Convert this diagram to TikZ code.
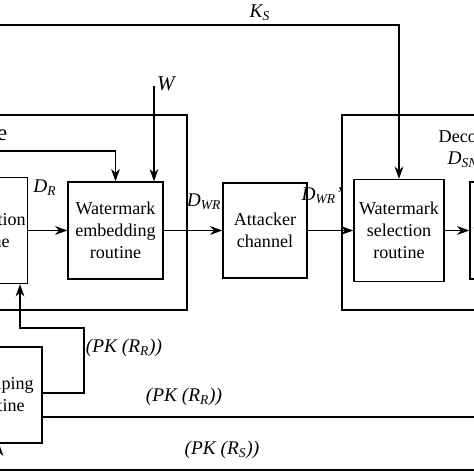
\documentclass[tikz,border=0pt]{standalone}
\usepackage{fontspec}
\setmainfont{Liberation Serif}
\usetikzlibrary{arrows.meta}
\newcommand{\lab}[2]{\textit{#1}\textsubscript{\textit{#2}}}

\begin{document}
\begin{tikzpicture}[x=0.02cm,y=-0.02cm,line width=0.8pt,>={Stealth[length=7pt,width=5pt]},
    blk/.style={draw,align=center,font=\fontsize{10.3}{12.5}\selectfont,inner sep=1pt},
    lbl/.style={font=\fontsize{11}{13}\selectfont\itshape,inner sep=0pt}]
    \useasboundingbox (0,0) rectangle (474,474);
    \clip (0,0) rectangle (474,474);
    % encoder and decoder sides
    \draw[line width=1pt] (-100,115) rectangle (187,310);
    \draw[line width=1pt] (342,115) rectangle (600,310);
    \node[anchor=base east,inner sep=0pt,font=\fontsize{13}{15}\selectfont] (n7) at (8,140) {Encoder side};
    \node[anchor=base west,inner sep=0pt,font=\fontsize{10.3}{12}\selectfont] (n8) at (438,142) {Decoder};
    % routines
    \node[blk,minimum width=1.72cm,minimum height=2.12cm] (n1) at (-16,230.5) {Preparation\\routine};
    \node[blk,minimum width=1.9cm,minimum height=1.94cm] (n2) at (115.5,230.5) {Watermark\\embedding\\routine};
    \node[blk,minimum width=1.68cm,minimum height=1.9cm] (n3) at (265,230.5) {Attacker\\channel};
    \node[blk,minimum width=1.8cm,minimum height=2.04cm] (n4) at (399,230.5) {Watermark\\selection\\routine};
    \node[blk,minimum width=1.8cm,minimum height=1.94cm] (n5) at (515,230.5) {Watermark\\verification\\routine};
    \node[blk,minimum width=1.72cm,minimum height=1.92cm] (n6) at (-1,395) {Grouping\\routine};
    \draw[->] (n1) edge (n2) (n2) edge (n3) (n3) edge (n4) (n4) edge (n5);
    % keys and watermark
    \coordinate (ks) at (-100,25);
    \coordinate (w) at (154,86);
    \coordinate (d0) at (-100,151);
    \draw[->] (ks) -| (n4);
    \draw[->] (w) -- (w |- n2.north);
    \draw[->] (d0) -| (n2);
    % partition keys
    \coordinate (g0) at (84,393);
    \coordinate (f0) at (84,328);
    \coordinate (f1) at (20,328);
    \coordinate (g1) at (500,417);
    \coordinate (s0) at (-100,470);
    \coordinate (s1) at (500,470);
    \draw[->] (n6.east |- g0) -- (g0) -- (f0) -- (f1) -- (f1 |- n1.south);
    \draw (n6.east |- g1) -- (g1);
    \draw (s0) -- (s1);
    \draw[->] (n6.south |- s0) -- (n6.south);
    % labels
    \node[lbl] (l0) at (260,13) {\lab{K}{S}};
    \node[lbl,font=\fontsize{12}{14}\selectfont\itshape] (l1) at (166,84) {W};
    \node[lbl] (l2) at (45,188) {\lab{D}{R}};
    \node[lbl] (l3) at (204,202) {\lab{D}{WR}};
    \node[lbl] (l4) at (322,196) {\lab{D}{WR}'};
    \node[lbl,anchor=west] (l5) at (447,160) {\lab{D}{SN}};
    \node[lbl] (l6) at (124,348) {(PK (\lab{R}{R}))};
    \node[lbl] (l7) at (184,397) {(PK (\lab{R}{R}))};
    \node[lbl] (l8) at (222,450) {(PK (\lab{R}{S}))};
\end{tikzpicture}
\end{document}
